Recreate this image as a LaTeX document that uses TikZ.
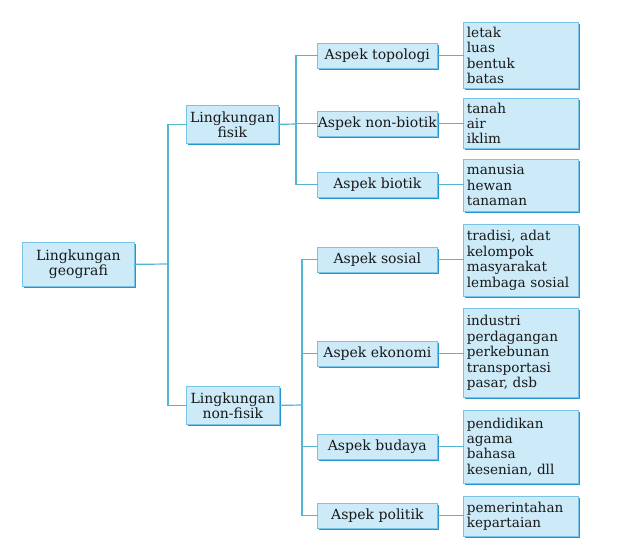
\documentclass[tikz,border=0pt]{standalone}
\usepackage{fontspec}
\setmainfont{DejaVu Serif}
\usetikzlibrary{shadows}
\definecolor{linec}{RGB}{80,182,212}
\definecolor{boxfill}{RGB}{204,234,248}
\definecolor{boxedge}{RGB}{120,195,230}
\definecolor{shadowc}{RGB}{35,150,208}
\definecolor{txt}{RGB}{25,25,25}
\begin{document}
\begin{tikzpicture}[x=1pt,y=-1pt,
  box/.style={draw=boxedge, line width=0.7pt, fill=boxfill, text=txt,
    font=\fontsize{14}{15}\selectfont, inner sep=0pt, anchor=north west,
    drop shadow={shadow xshift=2pt, shadow yshift=-2pt, fill=shadowc, opacity=1}},
  lvl/.style={box, align=center},
  asp/.style={box, minimum width=120pt, minimum height=25pt, align=center},
  leaf/.style={box, text width=108pt, inner xsep=3.5pt, align=left,
    font=\fontsize{13.6}{15.4}\selectfont},
  conn/.style={draw=linec, line width=1.2pt, line cap=rect}]
\fill[white] (0,0) rectangle (620,558);
\useasboundingbox (0,0) rectangle (620,558);

% level 0 and 1
\node[lvl, minimum width=112pt, minimum height=44pt] (root) at (22,242) {Lingkungan\\geografi};
\node[lvl, minimum width=92pt, minimum height=38pt] (fis) at (186,105) {Lingkungan\\fisik};
\node[lvl, minimum width=93pt, minimum height=38pt] (nfis) at (186,386) {Lingkungan\\non-fisik};

% aspects
\node[asp] (topo) at (317,43) {Aspek topologi};
\node[asp] (nbio) at (317,111) {Aspek non-biotik};
\node[asp] (bio) at (317,172) {Aspek biotik};
\node[asp] (sos) at (317,247) {Aspek sosial};
\node[asp] (eko) at (317,341) {Aspek ekonomi};
\node[asp] (bud) at (317,434) {Aspek budaya};
\node[asp] (pol) at (317,503) {Aspek politik};

% leaves
\node[leaf, minimum height=66pt] (l1) at (463,22) {letak\\luas\\bentuk\\batas};
\node[leaf, minimum height=50pt] (l2) at (463,98) {tanah\\air\\iklim};
\node[leaf, minimum height=52pt] (l3) at (463,159) {manusia\\hewan\\tanaman};
\node[leaf, minimum height=72pt] (l4) at (463,224) {tradisi, adat\\kelompok\\masyarakat\\lembaga sosial};
\node[leaf, minimum height=89pt] (l5) at (463,308) {industri\\perdagangan\\perkebunan\\transportasi\\pasar, dsb};
\node[leaf, minimum height=73pt] (l6) at (463,410) {pendidikan\\agama\\bahasa\\kesenian, dll};
\node[leaf, minimum height=40pt] (l7) at (463,496) {pemerintahan\\kepartaian};

% junction points
\coordinate (b0) at (168,264);
\coordinate (b1) at (296,124);
\coordinate (b2) at (302,405);

\draw[conn] (root.east) -- (b0);
\draw[conn] (fis.west) -| (b0) |- (nfis.west);
\draw[conn] (fis.east) -- (b1);
\draw[conn] (topo.west) -| (b1) |- (bio.west);
\draw[conn] (nbio.west) -- (nbio.west -| b1);
\draw[conn] (nfis.east) -- (b2);
\draw[conn] (sos.west) -| (b2) |- (pol.west);
\draw[conn] (eko.west) -- (eko.west -| b2);
\draw[conn] (bud.west) -- (bud.west -| b2);
\foreach \a/\l in {topo/l1,nbio/l2,bio/l3,sos/l4,eko/l5,bud/l6,pol/l7}
  \draw[conn] (\a.east) -- (\a.east -| \l.west);
\end{tikzpicture}
\end{document}
